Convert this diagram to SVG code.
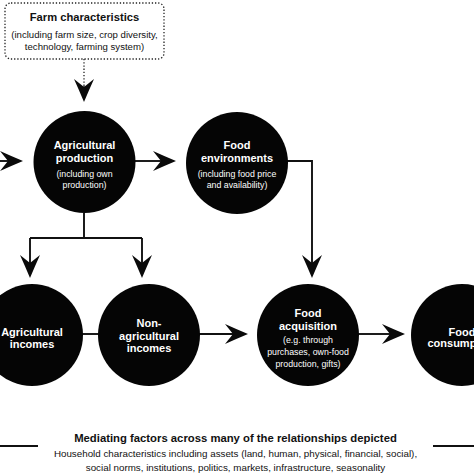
<svg xmlns="http://www.w3.org/2000/svg" width="474" height="474" viewBox="0 0 474 474">
<defs>
<style>
.node{fill:#050505}
.t{font-family:"Liberation Sans",Arial,sans-serif;fill:#fff;text-anchor:middle}
.h{font-size:11px;font-weight:bold}
.s{font-size:8.8px}
.k{font-family:"Liberation Sans",Arial,sans-serif;fill:#111;text-anchor:middle}
.ln{stroke:#111;stroke-width:1.9;fill:none}
.dot{stroke:#222;stroke-width:1.3;fill:none;stroke-dasharray:1.3 1.9}
</style>
<marker id="ah" markerUnits="userSpaceOnUse" markerWidth="24" markerHeight="22" viewBox="0 0 24 22" refX="8" refY="11" orient="auto">
<path d="M0,1 Q11,6 23,11 Q11,16 0,21 L8,11 Z" fill="#0a0a0a"/>
</marker>
</defs>
<rect width="474" height="474" fill="#fff"/>
<g id="connectors">
<path class="dot" d="M84,59 V86"/>
<path class="ln" d="M0,161 H8" marker-end="url(#ah)"/>
<path class="ln" d="M135,161 H161" marker-end="url(#ah)"/>
<path class="ln" d="M287,161 H312 V263" marker-end="url(#ah)"/>
<path class="ln" d="M84,213 V238 M30,238 H142"/>
<path class="ln" d="M30,238 V263" marker-end="url(#ah)"/>
<path class="ln" d="M142,238 V263" marker-end="url(#ah)"/>
<path class="ln" d="M82,334 H99"/>
<path class="ln" d="M199,334 H233" marker-end="url(#ah)"/>
<path class="ln" d="M358,334 H390" marker-end="url(#ah)"/>
<path class="dot" d="M84,86 V87" marker-end="url(#ah)"/>
</g>
<g id="farm-characteristics">
<rect class="dot" x="5" y="3" width="159" height="56" rx="6"/>
<text class="k" x="84.5" y="21" font-size="11.2" font-weight="bold">Farm characteristics</text>
<text class="k" x="84.5" y="37.5" font-size="9.6">(including farm size, crop diversity,</text>
<text class="k" x="84.5" y="49.5" font-size="9.6">technology, farming system)</text>
</g>
<g id="agricultural-production">
<circle class="node" cx="84.5" cy="162" r="51"/>
<text class="t h" x="84.5" y="149">Agricultural</text>
<text class="t h" x="84.5" y="162">production</text>
<text class="t s" x="84.5" y="177">(including own</text>
<text class="t s" x="84.5" y="188">production)</text>
</g>
<g id="food-environments">
<circle class="node" cx="237" cy="163" r="51"/>
<text class="t h" x="237" y="149">Food</text>
<text class="t h" x="237" y="162">environments</text>
<text class="t s" x="237" y="177">(including food price</text>
<text class="t s" x="237" y="188">and availability)</text>
</g>
<g id="agricultural-incomes">
<circle class="node" cx="32" cy="335" r="51"/>
<text class="t h" x="32" y="336">Agricultural</text>
<text class="t h" x="32" y="348">incomes</text>
</g>
<g id="non-agricultural-incomes">
<circle class="node" cx="149" cy="335" r="51"/>
<text class="t h" x="149" y="327">Non-</text>
<text class="t h" x="149" y="340">agricultural</text>
<text class="t h" x="149" y="352">incomes</text>
</g>
<g id="food-acquisition">
<circle class="node" cx="308" cy="335" r="51"/>
<text class="t h" x="308" y="317">Food</text>
<text class="t h" x="308" y="330">acquisition</text>
<text class="t s" x="308" y="343">(e.g. through</text>
<text class="t s" x="308" y="355">purchases, own-food</text>
<text class="t s" x="308" y="367">production, gifts)</text>
</g>
<g id="food-consumption">
<circle class="node" cx="462" cy="335" r="51"/>
<text class="t h" x="462" y="336">Food</text>
<text class="t h" x="462" y="347">consumption</text>
</g>
<g id="mediating-factors">
<path class="ln" d="M0,446 H38 M433,446 H474"/>
<text class="k" x="235.5" y="442" font-size="11.3" font-weight="bold">Mediating factors across many of the relationships depicted</text>
<text class="k" x="235.5" y="456.5" font-size="9.8">Household characteristics including assets (land, human, physical, financial, social),</text>
<text class="k" x="235.5" y="470.5" font-size="9.8">social norms, institutions, politics, markets, infrastructure, seasonality</text>
</g>
</svg>
